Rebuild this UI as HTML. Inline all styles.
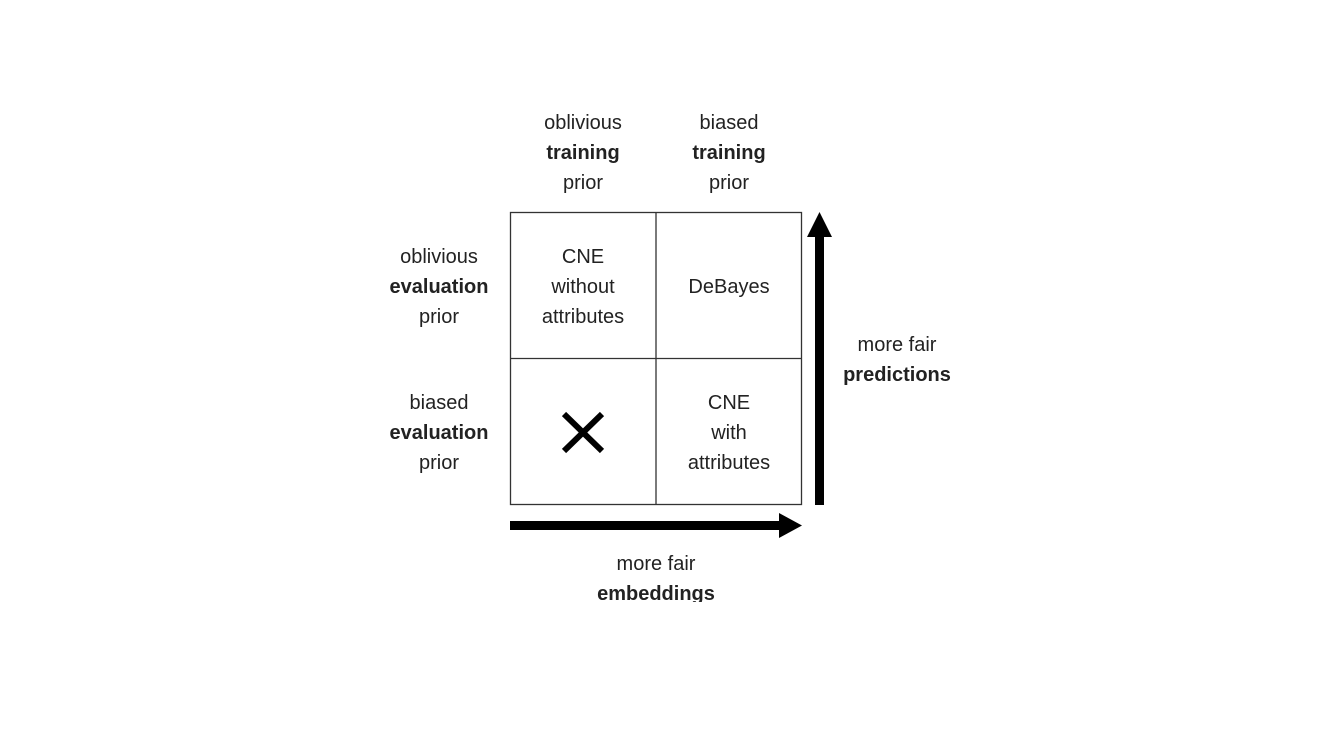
<!DOCTYPE html>
<html><head><style>
body{margin:0;width:1340px;height:755px;background:#fff;position:relative;overflow:hidden;font-family:"Liberation Sans",sans-serif;color:#222}
.t{position:absolute;text-align:center;font-size:20px;line-height:30px;width:200px;margin-left:-100px}
b{font-weight:bold}
</style></head><body>
<svg width="1340" height="755" style="position:absolute;left:0;top:0">
<rect x="510.5" y="212.5" width="291" height="292" fill="none" stroke="#333" stroke-width="1.3"/>
<line x1="656" y1="212" x2="656" y2="505" stroke="#333" stroke-width="1.3"/>
<line x1="510" y1="358.5" x2="802" y2="358.5" stroke="#333" stroke-width="1.3"/>
<rect x="815" y="236" width="9" height="269" fill="#000"/>
<polygon points="807,237 832,237 819.5,212" fill="#000"/>
<rect x="510" y="521" width="272" height="9" fill="#000"/>
<polygon points="779,513 779,538 802,525.5" fill="#000"/>
<line x1="564" y1="414" x2="602" y2="451" stroke="#000" stroke-width="6"/>
<line x1="602" y1="414" x2="564" y2="451" stroke="#000" stroke-width="6"/>
</svg>
<div class="t" style="left:583px;top:108px">oblivious<br><b>training</b><br>prior</div>
<div class="t" style="left:729px;top:108px">biased<br><b>training</b><br>prior</div>
<div class="t" style="left:439px;top:242px">oblivious<br><b>evaluation</b><br>prior</div>
<div class="t" style="left:439px;top:388px">biased<br><b>evaluation</b><br>prior</div>
<div class="t" style="left:583px;top:242px">CNE<br>without<br>attributes</div>
<div class="t" style="left:729px;top:272px">DeBayes</div>
<div class="t" style="left:729px;top:388px">CNE<br>with<br>attributes</div>
<div class="t" style="left:897px;top:330px">more fair<br><b>predictions</b></div>
<div style="position:absolute;left:0;top:0;width:1340px;height:602px;overflow:hidden">
<div class="t" style="left:656px;top:549px">more fair<br><b>embeddings</b></div>
</div>
</body></html>
